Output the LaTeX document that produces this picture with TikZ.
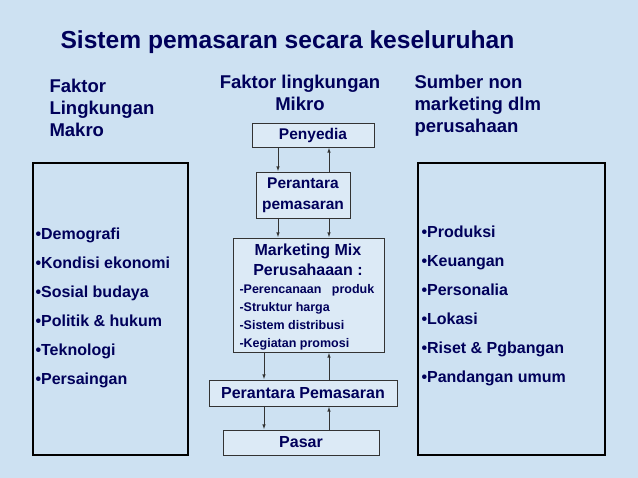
\documentclass[tikz,border=0pt]{standalone}
\usepackage{fontspec}
\setmainfont{Liberation Sans}
\begin{document}
\begin{tikzpicture}[x=1pt,y=-1pt,
  bx/.style={draw=black!80,line width=0.8pt,fill=bgc!70!white},
  big/.style={draw=black,line width=1.2pt},
  tx/.style={text=navy,font=\bfseries},
  arr/.style={-latex,line width=0.6pt,draw=black!80}]
\definecolor{bgc}{RGB}{205,225,242}
\definecolor{navy}{RGB}{0,0,90}
\fill[bgc] (0,0) rectangle (638,478);
\useasboundingbox (0,0) rectangle (638,478);
\node[tx,anchor=west,font=\bfseries\fontsize{24.6}{28}\selectfont] (title) at (57,42) {Sistem pemasaran secara keseluruhan};
\node[tx,anchor=north west,align=left,font=\bfseries\fontsize{18.5}{22}\selectfont] (h1) at (46,76) {Faktor\\Lingkungan\\Makro};
\node[tx,anchor=north,align=center,font=\bfseries\fontsize{18.5}{22}\selectfont] (h2) at (300,72) {Faktor lingkungan\\Mikro};
\node[tx,anchor=north west,align=left,font=\bfseries\fontsize{18.5}{22}\selectfont] (h3) at (411,72) {Sumber non\\marketing dlm\\perusahaan};
\draw[big] (33,163) rectangle (188,455);
\draw[big] (418,163) rectangle (605,455);
\node[tx,anchor=north west,align=left,font=\bfseries\fontsize{16}{29}\selectfont] (L) at (32,224) {•Demografi\\•Kondisi ekonomi\\•Sosial budaya\\•Politik \& hukum\\•Teknologi\\•Persaingan};
\node[tx,anchor=north west,align=left,font=\bfseries\fontsize{16}{29}\selectfont] (R) at (418,222) {•Produksi\\•Keuangan\\•Personalia\\•Lokasi\\•Riset \& Pgbangan\\•Pandangan umum};
\draw[bx] (252,123) rectangle (374,147);
\node[tx,font=\bfseries\fontsize{15.5}{18}\selectfont] (p1) at (313,135) {Penyedia};
\draw[bx] (256,172) rectangle (350,218);
\node[tx,align=center,font=\bfseries\fontsize{15.5}{21}\selectfont] (p2) at (303,195) {Perantara\\pemasaran};
\draw[bx] (233,238) rectangle (384,352);
\node[tx,align=center,font=\bfseries\fontsize{16}{20}\selectfont] (p3) at (308,260) {Marketing Mix\\Perusahaaan :};
\node[tx,anchor=north west,align=left,font=\bfseries\fontsize{12.5}{18}\selectfont] (p3b) at (236,281) {-Perencanaan\ \ \ produk\\-Struktur harga\\-Sistem distribusi\\-Kegiatan promosi};
\draw[bx] (209,380) rectangle (397,406);
\node[tx,font=\bfseries\fontsize{16}{18}\selectfont] (p4) at (303,393) {Perantara Pemasaran};
\draw[bx] (223,430) rectangle (379,455);
\node[tx,font=\bfseries\fontsize{16}{18}\selectfont] (p5) at (301,442) {Pasar};
\draw[arr] (278,148) -- (278,171);
\draw[arr] (329,172) -- (329,148);
\draw[arr] (278,218) -- (278,237);
\draw[arr] (329,218) -- (329,237);
\draw[arr] (264,352) -- (264,379);
\draw[arr] (329,380) -- (329,353);
\draw[arr] (264,406) -- (264,429);
\draw[arr] (329,430) -- (329,407);
\end{tikzpicture}
\end{document}
